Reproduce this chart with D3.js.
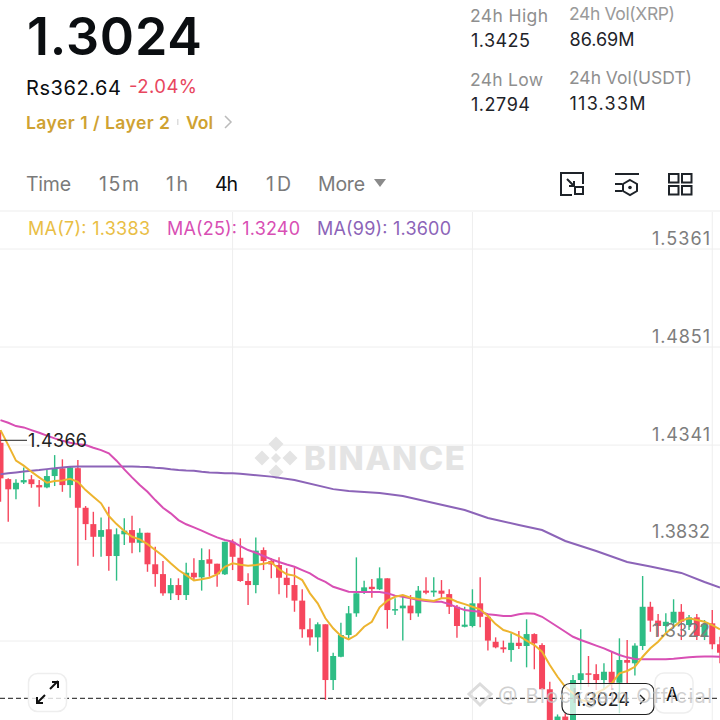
<!DOCTYPE html>
<html><head><meta charset="utf-8">
<script src="https://cdn.jsdelivr.net/npm/d3@7"></script>
<style>html,body{margin:0;padding:0;background:#fff}svg{display:block}text{font-family:Inter,"Open Sans",sans-serif}</style>
</head><body><svg id="c" width="720" height="720"></svg>
<script>
const open_=[1.4353,1.4164,1.4111,1.4147,1.4163,1.4133,1.4121,1.4180,1.4220,1.4133,1.4221,1.4015,1.3930,1.3864,1.3903,1.3764,1.3877,1.3899,1.3833,1.3885,1.3721,1.3670,1.3570,1.3613,1.3561,1.3677,1.3653,1.3747,1.3724,1.3669,1.3838,
1.3755,1.3634,1.3613,1.3795,1.3738,1.3717,1.3651,1.3613,1.3532,1.3383,1.3341,1.3409,1.3119,1.3240,1.3353,1.3466,1.3578,1.3604,1.3591,1.3648,1.3481,1.3492,1.3506,1.3466,1.3584,1.3575,1.3584,1.3566,1.3500,1.3396,1.3400,
1.3518,1.3448,1.3318,1.3289,1.3275,1.3313,1.3296,1.3358,1.3301,1.3071,1.2860,1.2929,1.2880,1.3119,1.3154,1.3150,1.3119,1.3162,1.3105,1.3223,1.3206,1.3296,1.3500,1.3428,1.3400,1.3417,1.3474,1.3405,1.3445,1.3348,1.3414,1.3305];
const high=[1.4419,1.4168,1.4163,1.4225,1.4185,1.4159,1.4211,1.4289,1.4267,1.4228,1.4263,1.4024,1.3994,1.3965,1.4020,1.3908,1.3960,1.3974,1.3908,1.3885,1.3812,1.3738,1.3648,1.3648,1.3729,1.3752,1.3804,1.3799,1.3724,1.3838,1.3851,
1.3856,1.3674,1.3861,1.3809,1.3752,1.3757,1.3700,1.3705,1.3591,1.3440,1.3419,1.3409,1.3261,1.3417,1.3504,1.3757,1.3636,1.3644,1.3705,1.3648,1.3544,1.3561,1.3561,1.3608,1.3653,1.3653,1.3639,1.3591,1.3509,1.3500,1.3591,
1.3653,1.3457,1.3341,1.3324,1.3362,1.3374,1.3435,1.3362,1.3310,1.3110,1.2940,1.2946,1.3145,1.3383,1.3244,1.3201,1.3206,1.3266,1.3336,1.3327,1.3310,1.3660,1.3526,1.3462,1.3466,1.3539,1.3514,1.3457,1.3462,1.3431,1.3483,1.3344];
const low=[1.4046,1.3942,1.4059,1.4138,1.4119,1.4020,1.4116,1.4128,1.4098,1.4067,1.3714,1.3847,1.3760,1.3760,1.3688,1.3636,1.3821,1.3778,1.3783,1.3682,1.3604,1.3558,1.3535,1.3535,1.3535,1.3639,1.3584,1.3656,1.3604,1.3665,1.3691,
1.3630,1.3509,1.3570,1.3691,1.3648,1.3565,1.3547,1.3474,1.3339,1.3298,1.3266,1.3015,1.3067,1.3237,1.3336,1.3448,1.3566,1.3547,1.3587,1.3386,1.3457,1.3324,1.3431,1.3448,1.3565,1.3552,1.3544,1.3462,1.3339,1.3393,1.3393,
1.3393,1.3272,1.3284,1.3261,1.3214,1.3280,1.3185,1.3175,1.3071,1.2794,1.2840,1.2794,1.2860,1.3067,1.3084,1.3067,1.3067,1.3067,1.2946,1.3102,1.3142,1.3275,1.3370,1.3344,1.3353,1.3405,1.3327,1.3379,1.3327,1.3327,1.3279,1.3206];
const close_=[1.4168,1.4111,1.4145,1.4159,1.4138,1.4121,1.4180,1.4220,1.4133,1.4225,1.4015,1.3930,1.3864,1.3899,1.3764,1.3877,1.3896,1.3833,1.3885,1.3721,1.3670,1.3570,1.3613,1.3561,1.3677,1.3653,1.3743,1.3724,1.3669,1.3838,1.3760,
1.3634,1.3613,1.3792,1.3738,1.3720,1.3651,1.3613,1.3532,1.3383,1.3341,1.3409,1.3119,1.3244,1.3353,1.3466,1.3570,1.3601,1.3592,1.3648,1.3483,1.3488,1.3506,1.3466,1.3584,1.3573,1.3584,1.3568,1.3500,1.3400,1.3407,1.3518,
1.3448,1.3324,1.3289,1.3279,1.3313,1.3296,1.3358,1.3310,1.3071,1.2870,1.2929,1.2850,1.3119,1.3154,1.3150,1.3119,1.3162,1.3105,1.3223,1.3209,1.3298,1.3500,1.3428,1.3400,1.3422,1.3474,1.3422,1.3445,1.3348,1.3410,1.3305,1.3261];
const ma7=[1.4419,1.4341,1.4260,1.4234,1.4202,1.4173,1.4145,1.4154,1.4157,1.4166,1.4150,1.4107,1.4072,1.4038,1.3972,1.3930,1.3894,1.3864,1.3851,1.3826,1.3795,1.3764,1.3726,1.3691,1.3665,1.3637,1.3643,1.3651,1.3669,1.3708,1.3726,
1.3719,1.3714,1.3717,1.3724,1.3731,1.3695,1.3669,1.3662,1.3639,1.3570,1.3518,1.3440,1.3388,1.3348,1.3331,1.3353,1.3396,1.3422,1.3497,1.3532,1.3552,1.3561,1.3547,1.3540,1.3535,1.3530,1.3544,1.3544,1.3526,1.3514,1.3500,
1.3487,1.3452,1.3410,1.3379,1.3367,1.3348,1.3324,1.3301,1.3266,1.3197,1.3136,1.3084,1.3050,1.3015,1.3007,1.3050,1.3071,1.3102,1.3154,1.3166,1.3188,1.3240,1.3284,1.3318,1.3362,1.3396,1.3428,1.3440,1.3431,1.3422,1.3405,1.3383];
const ma25=[1.4471,1.4457,1.4440,1.4433,1.4419,1.4405,1.4390,1.4376,1.4364,1.4353,1.4346,1.4341,1.4327,1.4315,1.4298,1.4260,1.4215,1.4173,1.4133,1.4098,1.4055,1.4015,1.3986,1.3951,1.3929,1.3913,1.3896,1.3878,1.3861,1.3847,1.3838,
1.3816,1.3795,1.3781,1.3764,1.3747,1.3733,1.3720,1.3708,1.3691,1.3674,1.3648,1.3630,1.3604,1.3591,1.3578,1.3577,1.3577,1.3577,1.3577,1.3570,1.3558,1.3552,1.3544,1.3535,1.3530,1.3526,1.3526,1.3514,1.3497,1.3483,1.3478,
1.3474,1.3461,1.3457,1.3452,1.3452,1.3461,1.3466,1.3464,1.3448,1.3422,1.3396,1.3370,1.3344,1.3327,1.3313,1.3298,1.3284,1.3266,1.3249,1.3237,1.3228,1.3227,1.3227,1.3227,1.3227,1.3230,1.3234,1.3237,1.3240,1.3242,1.3242,1.3240];
const ma99Idx=[0,1,2,3,4,5,6,7,8,9,10,14,17,18,19,20,21,22,23,24,25,26,27,28,29,30,31,35,38,43,45,49,52,56,60,63,67,70,73,77,81,84,88,91,93];
const ma99=[1.4189,1.4194,1.4199,1.4204,1.4208,1.4211,1.4216,1.4220,1.4225,1.4228,1.4230,1.4230,1.4230,1.4228,1.4227,1.4223,1.4220,1.4215,1.4211,1.4209,1.4208,1.4202,1.4199,1.4197,1.4195,1.4194,1.4192,1.4177,1.4159,1.4112,1.4102,1.4092,1.4076,1.4040,1.4003,1.3962,1.3925,1.3899,1.3842,1.3790,1.3733,1.3709,1.3676,1.3629,1.3600];
const priceTicks=[1.5361,1.4851,1.4341,1.3832,1.3322];
const timeGrid=[30,61,92];
const lastPrice=1.3024, peakPrice=1.4366, peakIdx=0;
const tabs=["Time","15m","1h","4h","1D","More"];

const svg=d3.select("#c");
const defs=svg.append("defs");
defs.append("clipPath").attr("id","plot").append("rect").attr("x",0).attr("y",212).attr("width",720).attr("height",508);
const x=d3.scaleLinear().domain([0,93]).range([0.5,720]);
const y=d3.scaleLinear().domain([1.3322,1.5361]).range([641,249]);
const RED="#F6465D",GREEN="#2EBD85";
function T(s,xx,yy,size,fill,w,anchor,len){const t=svg.append("text").attr("x",xx).attr("y",yy).attr("font-size",size).attr("fill",fill).attr("font-weight",w||400).attr("text-anchor",anchor||"start").text(s);if(len)t.attr("textLength",len).attr("lengthAdjust","spacing");return t;}

// header
T("1.3024",27,55,52,"#0b0e11",600,"start",175);
T("Rs362.64",26,95,20,"#0b0e11",400,"start",95);
T("-2.04%",129,93,18.5,"#E8465E",400,"start",68);
T("Layer 1 / Layer 2",26,129,17.5,"#CFA232",600,"start",144);
svg.append("rect").attr("x",177).attr("y",119).attr("width",1.5).attr("height",6).attr("fill","#ddd");
T("Vol",186,129,17.5,"#CFA232",600);
svg.append("path").attr("d","M225 116l6 6-6 6").attr("fill","none").attr("stroke","#bbb").attr("stroke-width",1.5);
T("24h High",470,22,17.5,"#8f8f8f",400,"start",78);T("1.3425",471,47,18,"#1e2329",400,"start",59);
T("24h Low",470,86,17.5,"#8f8f8f",400,"start",73);T("1.2794",471,111,18,"#1e2329",400,"start",59);
T("24h Vol(XRP)",569,20,17.5,"#9a9a9a",400,"start",106);T("86.69M",569.5,46,18,"#1e2329",400,"start",65);
T("24h Vol(USDT)",569,84,17.5,"#8f8f8f",400,"start",123);T("113.33M",569.5,110,18,"#1e2329",400,"start",76);
const tabX=[26,99,166,215,266,318],tabLen=[45,40,22,23,25,47];
tabs.forEach((t,i)=>T(t,tabX[i],191,19.5,t==="4h"?"#0b0e11":"#7a7a7a",400,"start",tabLen[i]));
svg.append("path").attr("d","M374 179h12l-6 8z").attr("fill","#8a8a8a");
const ic=svg.append("g").attr("fill","none").attr("stroke","#1e2329").attr("stroke-width",2);
ic.append("path").attr("d","M572 195h-11v-22h22v11");
ic.append("path").attr("d","M567 179l7 7m0-5v5h-5");
ic.append("rect").attr("x",575).attr("y",187).attr("width",8).attr("height",7);
ic.append("path").attr("d","M615 174h24M615 184h7M615 191h7");
ic.append("path").attr("d","M630 180l7 4v7l-7 4-7-4v-7z");
svg.append("circle").attr("cx",630).attr("cy",187.5).attr("r",1.8).attr("fill","#1e2329");
[[669,174],[682,174],[669,186],[682,186]].forEach(p=>ic.append("rect").attr("x",p[0]).attr("y",p[1]).attr("width",9.5).attr("height",8.5));

// chart frame and grid
svg.append("line").attr("x1",0).attr("x2",720).attr("y1",211).attr("y2",211).attr("stroke","#eeeeee").attr("stroke-width",1.2);
const plot=svg.append("g").attr("clip-path","url(#plot)");
plot.selectAll("line.h").data(priceTicks).join("line").attr("class","h").attr("x1",0).attr("x2",720).attr("y1",d=>y(d)).attr("y2",d=>y(d)).attr("stroke","#eeeeee");
plot.selectAll("line.v").data(timeGrid).join("line").attr("class","v").attr("y1",212).attr("y2",720).attr("x1",d=>x(d)).attr("x2",d=>x(d)).attr("stroke","#eeeeee");

// watermark
const wm=plot.append("g").attr("fill","#e4e4e4");
wm.append("text").attr("x",304).attr("y",470).attr("font-size",33).attr("font-weight",800).attr("textLength",161).attr("lengthAdjust","spacing").text("BINANCE");
[[276,444,7.5],[262,458,7.5],[290,458,7.5],[276,472,7.5]].forEach(d=>wm.append("path").attr("d",`M${d[0]} ${d[1]-d[2]}l${d[2]} ${d[2]}-${d[2]} ${d[2]}-${d[2]}-${d[2]}z`));
wm.append("path").attr("d","M276 453l5 5-5 5-5-5z");

// candles
const idx=d3.range(open_.length);
const col=i=>close_[i]>=open_[i]?GREEN:RED;
plot.selectAll("line.w").data(idx).join("line").attr("class","w").attr("x1",x).attr("x2",x).attr("y1",i=>y(high[i])).attr("y2",i=>y(low[i])).attr("stroke",col).attr("stroke-width",1.4);
plot.selectAll("rect.b").data(idx).join("rect").attr("class","b").attr("x",i=>x(i)-3).attr("width",6)
 .attr("y",i=>y(Math.max(open_[i],close_[i]))).attr("height",i=>Math.max(1.5,Math.abs(y(open_[i])-y(close_[i])))).attr("fill",col);

// moving averages
const ln=d3.line().x(d=>x(d[0])).y(d=>y(d[1]));
plot.append("path").attr("d",ln(ma99.map((v,i)=>[ma99Idx[i],v]))).attr("fill","none").attr("stroke","#8C64B8").attr("stroke-width",2);
plot.append("path").attr("d",ln(ma25.map((v,i)=>[i,v]))).attr("fill","none").attr("stroke","#D84FB4").attr("stroke-width",2);
plot.append("path").attr("d",ln(ma7.map((v,i)=>[i,v]))).attr("fill","none").attr("stroke","#EDB42F").attr("stroke-width",2);

// legend
T("MA(7): 1.3383",28,235,18,"#E9BE45",400,"start",122);
T("MA(25): 1.3240",167,235,18,"#D84FB4",400,"start",133);
T("MA(99): 1.3600",317,235,18,"#8C64B8",400,"start",134);

// price labels
priceTicks.forEach(p=>T(p.toFixed(4),710,y(p)-4.5,18,"#7d7d7d",400,"end",58));

// peak marker
svg.append("line").attr("x1",x(peakIdx)).attr("x2",27).attr("y1",y(peakPrice)).attr("y2",y(peakPrice)).attr("stroke","#222");
T(peakPrice.toFixed(4),28,y(peakPrice)+7,18,"#222",400,"start",59);

// last price line
plot.append("line").attr("x1",0).attr("x2",720).attr("y1",y(lastPrice)).attr("y2",y(lastPrice)).attr("stroke","#444").attr("stroke-width",1.2).attr("stroke-dasharray","5 3");

// expand button
svg.append("rect").attr("x",28.5).attr("y",673.5).attr("width",38).attr("height",38).attr("rx",9).attr("fill","#fff").attr("fill-opacity",.8).attr("stroke","#eeeeee").attr("stroke-width",1.5);
svg.append("path").attr("d","M37 703l8-8M50 689l8-8M52 682h6v6M37 697v6h6").attr("fill","none").attr("stroke","#111").attr("stroke-width",2);

// price tag and A button
svg.append("rect").attr("x",562).attr("y",683.5).attr("width",92).attr("height",31).attr("rx",8).attr("fill","#fff").attr("fill-opacity",.72).attr("stroke","#222").attr("stroke-width",1.2);
T("1.3024",574,706,18,"#222",400,"start",56);
svg.append("path").attr("d","M640 695l4.500 4.500-4.500 4.500").attr("fill","none").attr("stroke","#222").attr("stroke-width",1.4);
svg.append("rect").attr("x",655).attr("y",673).attr("width",38).attr("height",40).attr("rx",9).attr("fill","#fff").attr("fill-opacity",.6).attr("stroke","#eeeeee").attr("stroke-width",1.5);
T("A",666,701,18,"#111");

// account watermark, drawn over everything
const bw=svg.append("g");
bw.append("path").attr("d","M480 684l11 10-11 11-11-11z").attr("fill","none").attr("stroke","#dcdcdc").attr("stroke-width",3);
bw.append("text").attr("x",498).attr("y",703).attr("font-size",20).attr("fill","#c4c4c4").attr("fill-opacity",.78).attr("textLength",214).attr("lengthAdjust","spacing").text("@ Blockgain Official");
</script></body></html>
